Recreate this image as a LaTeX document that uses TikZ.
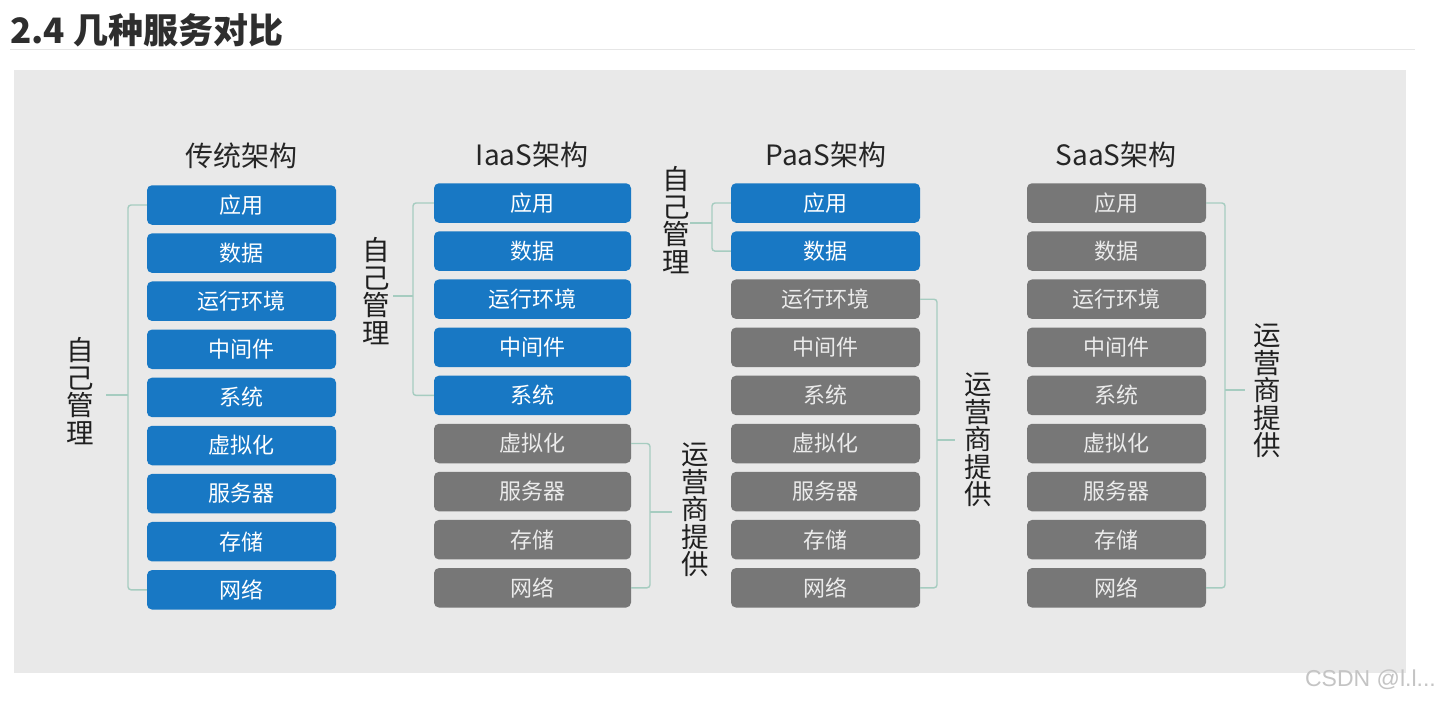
\documentclass[tikz,border=0pt]{standalone}
\usepackage{fontspec}
\newfontfamily\cjk{Noto Sans CJK SC}
\newfontfamily\wmfont{Liberation Sans}
\definecolor{panelbg}{HTML}{E9E9E9}
\definecolor{boxblue}{HTML}{1878C4}
\definecolor{boxgray}{HTML}{777777}
\definecolor{graytext}{HTML}{EBEBEB}
\definecolor{brkcol}{HTML}{A6CCC0}
\definecolor{titlecol}{HTML}{2E2E2E}
\definecolor{sepcol}{HTML}{E6E6E6}
\definecolor{wmcol}{HTML}{C4C4C4}
\tikzset{
  cell/.style={rounded corners=5pt, minimum height=39.5pt, inner sep=0pt,
    font=\cjk\fontsize{22}{22}\selectfont},
  bluecell/.style={cell, fill=boxblue, text=white},
  graycell/.style={cell, fill=boxgray, text=graytext},
  coltitle/.style={font=\cjk\fontsize{28}{28}\selectfont, text=black!85, inner sep=0pt},
  vlabel/.style={font=\cjk\fontsize{27.5}{27.6}\selectfont, align=center, text=black!88, inner sep=0pt},
  brk/.style={draw=brkcol, line width=1.4pt, rounded corners=3pt},
  tick/.style={draw=brkcol, line width=1.4pt},
}
\begin{document}
\begin{tikzpicture}[x=1pt,y=-1pt]
\useasboundingbox (0,0) rectangle (1440,705);
\fill[white] (0,0) rectangle (1440,705);
% title and separator
\node[anchor=base west, inner sep=0pt, font=\cjk\bfseries\fontsize{35}{35}\selectfont, text=titlecol] (title) at (10,43.5) {2.4 几种服务对比};
\coordinate (sepA) at (10,49.5);
\coordinate (sepB) at (1415,49.5);
\draw[sepcol, line width=1pt] (sepA) -- (sepB);
% panel
\fill[panelbg] (14,70) rectangle (1406,673);
% column titles
\node[coltitle] (t1) at (241,156) {传统架构};
\node[coltitle] (t2) at (532,155) {IaaS架构};
\node[coltitle] (t3) at (826,155) {PaaS架构};
\node[coltitle] (t4) at (1116,155) {SaaS架构};
% column 1: all blue
\foreach \i/\txt in {1/应用,2/数据,3/运行环境,4/中间件,5/系统,6/虚拟化,7/服务器,8/存储,9/网络}{
  \node[bluecell, minimum width=189pt] (a\i) at (241.5,{205+48.1*(\i-1)}) {\txt};
}
% column 2: IaaS
\foreach \i/\txt/\sty in {1/应用/bluecell,2/数据/bluecell,3/运行环境/bluecell,4/中间件/bluecell,5/系统/bluecell,6/虚拟化/graycell,7/服务器/graycell,8/存储/graycell,9/网络/graycell}{
  \node[\sty, minimum width=197pt] (b\i) at (532.5,{203+48.1*(\i-1)}) {\txt};
}
% column 3: PaaS
\foreach \i/\txt/\sty in {1/应用/bluecell,2/数据/bluecell,3/运行环境/graycell,4/中间件/graycell,5/系统/graycell,6/虚拟化/graycell,7/服务器/graycell,8/存储/graycell,9/网络/graycell}{
  \node[\sty, minimum width=189pt] (c\i) at (825.5,{203+48.1*(\i-1)}) {\txt};
}
% column 4: SaaS
\foreach \i/\txt in {1/应用,2/数据,3/运行环境,4/中间件,5/系统,6/虚拟化,7/服务器,8/存储,9/网络}{
  \node[graycell, minimum width=179pt] (d\i) at (1116.5,{203+48.1*(\i-1)}) {\txt};
}
% vertical labels
\node[vlabel] (l1) at (80,391) {自\\己\\管\\理};
\node[vlabel] (l2) at (376,291) {自\\己\\管\\理};
\node[vlabel] (l3) at (676,220) {自\\己\\管\\理};
\node[vlabel] (r2) at (695,510) {运\\营\\商\\提\\供};
\node[vlabel] (r3) at (978,440) {运\\营\\商\\提\\供};
\node[vlabel] (r4) at (1267,391) {运\\营\\商\\提\\供};
% brackets
\coordinate (k1) at (128,395);  \coordinate (k1t) at (106,395);
\draw[brk] (a1.west) -| (k1) |- (a9.west);
\draw[tick] (k1) -- (k1t);
\coordinate (k2) at (413,296);  \coordinate (k2t) at (393,296);
\draw[brk] (b1.west) -| (k2) |- (b5.west);
\draw[tick] (k2) -- (k2t);
\coordinate (k3) at (712,223);  \coordinate (k3t) at (690,223);
\draw[brk] (c1.west) -| (k3) |- (c2.west);
\draw[tick] (k3) -- (k3t);
\coordinate (k4) at (650,512);  \coordinate (k4t) at (672,512);
\draw[brk] (b6.east) -| (k4) |- (b9.east);
\draw[tick] (k4) -- (k4t);
\coordinate (k5) at (937,440);  \coordinate (k5t) at (955,440);
\draw[brk] (c3.east) -| (k5) |- (c9.east);
\draw[tick] (k5) -- (k5t);
\coordinate (k6) at (1225,390);  \coordinate (k6t) at (1245,390);
\draw[brk] (d1.east) -| (k6) |- (d9.east);
\draw[tick] (k6) -- (k6t);
% watermark
\node[anchor=east, inner sep=0pt, font=\wmfont\fontsize{23}{23}\selectfont, text=wmcol, xscale=1.0] (wm) at (1436,680) {CSDN @l.l...};
\end{tikzpicture}
\end{document}
